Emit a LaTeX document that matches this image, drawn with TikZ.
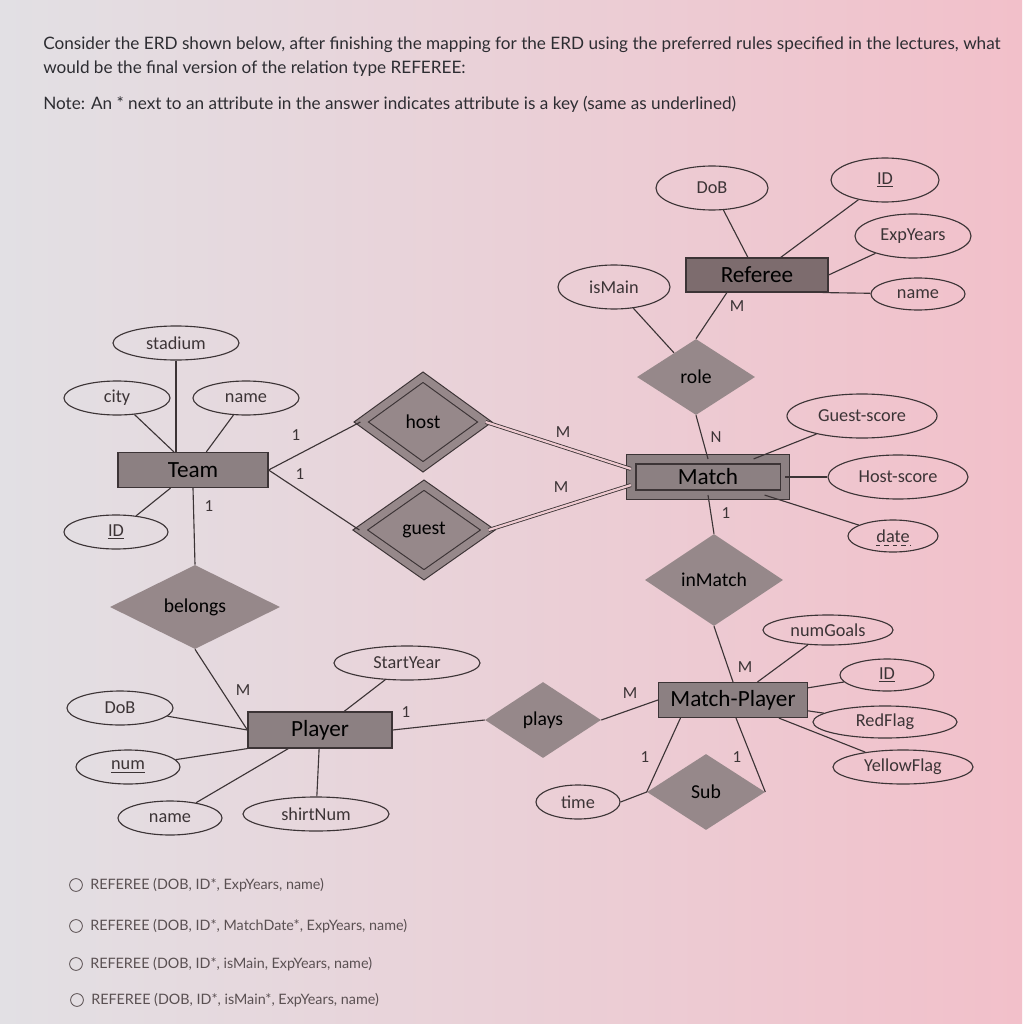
\documentclass[tikz,border=0pt]{standalone}
\usepackage{fontspec}
\setmainfont{Lato}
\newfontfamily\erfont{Carlito}
\usetikzlibrary{shapes.geometric,calc}

\definecolor{sfondoL}{RGB}{226,224,228}
\definecolor{sfondoM}{RGB}{238,202,208}
\definecolor{sfondoR}{RGB}{242,192,202}
\definecolor{tratto}{RGB}{60,52,54}
\definecolor{grigioE}{RGB}{140,128,130}
\definecolor{grigioS}{RGB}{125,108,110}
\definecolor{grigioR}{RGB}{150,136,138}
\definecolor{testo}{RGB}{45,45,50}
\definecolor{grigioO}{RGB}{90,80,82}

\begin{document}
\begin{tikzpicture}[x=0.025cm, y=-0.025cm,
    entita/.style={rectangle, draw=tratto, line width=0.8pt, fill=grigioE, inner sep=0pt, font=\erfont\fontsize{16.5}{19}\selectfont},
    debole/.style={entita, double=grigioE, double distance=0.2cm},
    attributo/.style={ellipse, draw=tratto, line width=0.8pt, inner sep=0pt, minimum width=2.65cm, minimum height=0.85cm, font=\erfont\fontsize{13}{15}\selectfont, text=tratto},
    relazione/.style={diamond, fill=grigioR, inner sep=0pt, font=\erfont\fontsize{14}{16}\selectfont},
    identif/.style={relazione, draw=tratto, line width=0.8pt, double=grigioR, double distance=0.18cm},
    card/.style={font=\erfont\fontsize{12}{14}\selectfont, text=tratto, inner sep=0pt},
    linea/.style={draw=tratto, line width=0.8pt},
    doppia/.style={draw=tratto, line width=0.6pt, double=sfondoM, double distance=1.6pt},
    domanda/.style={anchor=base west, inner sep=0pt, text=testo, font=\fontsize{12.2}{14}\selectfont},
    opzione/.style={font=\fontsize{10.2}{12}\selectfont, text=grigioO, inner sep=0pt, anchor=base west},
    radio/.style={circle, draw=grigioO, line width=0.6pt, minimum size=0.32cm, inner sep=0pt}
]
    % Sfondo
    \useasboundingbox (0,0) rectangle (1022,1024);
    \fill[left color=sfondoL, middle color=sfondoM, right color=sfondoR] (0,0) rectangle (1022,1024);

    % Domanda
    \node[domanda] (riga1) at (43,50) {Consider the ERD shown below, after finishing the mapping for the ERD using the preferred rules specified in the lectures, what};
    \node[domanda] (riga2) at (43,74) {would be the final version of the relation type REFEREE:};
    \node[domanda] (nota) at (43,110) {Note: An * next to an attribute in the answer indicates attribute is a key (same as underlined)};

    % Referee
    \node[entita, fill=grigioS, minimum width=3.55cm, minimum height=0.85cm] (referee) at (757,275) {Referee};
    \node[attributo, minimum width=2.8cm, minimum height=1.1cm] (refdob) at (712,188) {DoB};
    \node[attributo, minimum width=2.7cm, minimum height=1.1cm] (refid) at (885,180) {\underline{ID}};
    \node[attributo, minimum width=2.9cm, minimum height=1.1cm] (refexp) at (913,236) {ExpYears};
    \node[attributo, minimum width=2.35cm, minimum height=0.8cm] (refname) at (918,294) {name};
    \node[attributo, minimum width=2.8cm, minimum height=1.1cm] (ismain) at (614,287) {isMain};
    \node[relazione, minimum width=2.95cm, minimum height=1.9cm] (role) at (696,377) {role};

    % Match
    \node[debole, minimum width=3.83cm, minimum height=0.875cm] (match) at (708,477) {Match};
    \node[attributo, minimum width=3.75cm, minimum height=1.1cm] (guestscore) at (862,416) {Guest-score};
    \node[attributo, minimum width=3.5cm, minimum height=1.1cm] (hostscore) at (898,477) {Host-score};
    \node[attributo, minimum width=2.25cm, minimum height=0.8cm] (date) at (893,536) {date};
    \draw[tratto, dashed, line width=0.6pt] ($(date.center)+(-17,9)$) -- ($(date.center)+(17,9)$);

    % Team
    \node[entita, minimum width=3.75cm, minimum height=0.875cm] (team) at (193,470) {Team};
    \node[attributo, minimum width=3.15cm] (stadium) at (176,343) {stadium};
    \node[attributo] (city) at (117,398) {city};
    \node[attributo] (teamname) at (246,398) {name};
    \node[attributo, minimum width=2.6cm] (teamid) at (116,532) {\underline{ID}};
    \node[identif, minimum width=3.1cm, minimum height=2.25cm] (host) at (423,422) {host};
    \node[identif, minimum width=3.2cm, minimum height=2.25cm] (guest) at (424,530) {guest};
    \node[relazione, minimum width=4.25cm, minimum height=2.1cm] (belongs) at (195,607) {belongs};

    % Player
    \node[entita, minimum width=3.6cm, minimum height=0.9cm] (player) at (320,730) {Player};
    \node[attributo, minimum width=3.65cm] (startyear) at (407,663) {StartYear};
    \node[attributo] (pldob) at (120,708) {DoB};
    \node[attributo, minimum width=2.6cm] (num) at (128,767) {\underline{num}};
    \node[attributo, minimum width=2.6cm] (plname) at (170,818) {name};
    \node[attributo, minimum width=3.65cm] (shirtnum) at (316,814) {shirtNum};
    \node[relazione, minimum width=2.9cm, minimum height=1.9cm] (plays) at (543,720) {plays};

    % Match-Player
    \node[entita, minimum width=3.725cm, minimum height=0.875cm] (mp) at (733,700) {Match-Player};
    \node[relazione, minimum width=3.45cm, minimum height=2.3cm] (inmatch) at (714,580) {inMatch};
    \node[attributo, minimum width=3.25cm, minimum height=0.75cm] (numgoals) at (828,630) {numGoals};
    \node[attributo, minimum width=2.35cm, minimum height=0.8cm] (mpid) at (887,675) {\underline{ID}};
    \node[attributo, minimum width=3.6cm, minimum height=0.8cm] (redflag) at (885,722) {RedFlag};
    \node[attributo, minimum width=3.5cm] (yellowflag) at (903,767) {YellowFlag};
    \node[relazione, minimum width=2.95cm, minimum height=1.9cm] (sub) at (706,792) {Sub};
    \node[attributo, minimum width=2.1cm] (time) at (578,802) {time};

    % Collegamenti Referee
    \draw[linea] (refdob) -- (referee);
    \draw[linea] (refid) -- (referee);
    \draw[linea] (refexp) -- (referee.east);
    \draw[linea] (refname) -- (referee.-15);
    \draw[linea] ($(referee.south west)!0.29!(referee.south east)$) -- (role.north);
    \draw[linea] (ismain) -- (role);
    \draw[linea] (role.south) -- (match.north);

    % Collegamenti Match
    \draw[linea] (match) -- (guestscore);
    \draw[linea] (match) -- (hostscore);
    \draw[linea] (match) -- (date);
    \draw[doppia] (host.east) -- (match.174);
    \draw[doppia] (guest.east) -- (match.186);
    \draw[linea] (match.south) -- (inmatch.north);
    \draw[linea] (inmatch.south) -- (mp.north);

    % Collegamenti Team
    \draw[linea] (stadium) -- (stadium |- team.north);
    \draw[linea] (city) -- (team);
    \draw[linea] (teamname) -- (team);
    \draw[linea] (teamid) -- (team);
    \draw[linea] (team.east) -- (host.west);
    \draw[linea] (team.east) -- (guest.west);
    \draw[linea] (team.south) -- (belongs.north);
    \draw[linea] (belongs.south) -- (player.west);

    % Collegamenti Player
    \draw[linea] (pldob) -- (player.west);
    \draw[linea] (num) -- (player.south west);
    \draw[linea] (plname) -- (player);
    \draw[linea] (shirtnum) -- (player);
    \draw[linea] (startyear) -- (player);
    \draw[linea] (player.east) -- (plays.west);
    \draw[linea] (plays.east) -- (mp.west);

    % Collegamenti Match-Player
    \draw[linea] (mp) -- (numgoals);
    \draw[linea] (mp) -- (mpid);
    \draw[linea] (mp) -- (redflag);
    \draw[linea] (mp) -- (yellowflag);
    \draw[linea] ($(mp.south west)!0.15!(mp.south east)$) -- (sub.west);
    \draw[linea] ($(mp.south west)!0.52!(mp.south east)$) -- (sub.east);
    \draw[linea] (time.east) -- (sub.west);

    % Cardinalita
    \node[card] (crefrole) at (737,306) {M};
    \node[card] (crolematch) at (716,437) {N};
    \node[card] (chost) at (563,432) {M};
    \node[card] (cguest) at (561,487) {M};
    \node[card] (cteamhost) at (296,435) {1};
    \node[card] (cteamguest) at (300,474) {1};
    \node[card] (cteambel) at (209,506) {1};
    \node[card] (cbelplayer) at (243,690) {M};
    \node[card] (cplayerplays) at (406,712) {1};
    \node[card] (cplaysmp) at (630,693) {M};
    \node[card] (cmatchin) at (726,513) {1};
    \node[card] (cinmp) at (745,667) {M};
    \node[card] (csubl) at (645,757) {1};
    \node[card] (csubr) at (737,757) {1};

    % Risposte
    \node[radio] (r1) at (76,885) {};
    \node[opzione] (o1) at (90,889) {REFEREE (DOB, ID*, ExpYears, name)};
    \node[radio] (r2) at (76,926) {};
    \node[opzione] (o2) at (90,930) {REFEREE (DOB, ID*, MatchDate*, ExpYears, name)};
    \node[radio] (r3) at (76,964) {};
    \node[opzione] (o3) at (90,968) {REFEREE (DOB, ID*, isMain, ExpYears, name)};
    \node[radio] (r4) at (77,1000) {};
    \node[opzione] (o4) at (91,1004) {REFEREE (DOB, ID*, isMain*, ExpYears, name)};

\end{tikzpicture}
\end{document}
